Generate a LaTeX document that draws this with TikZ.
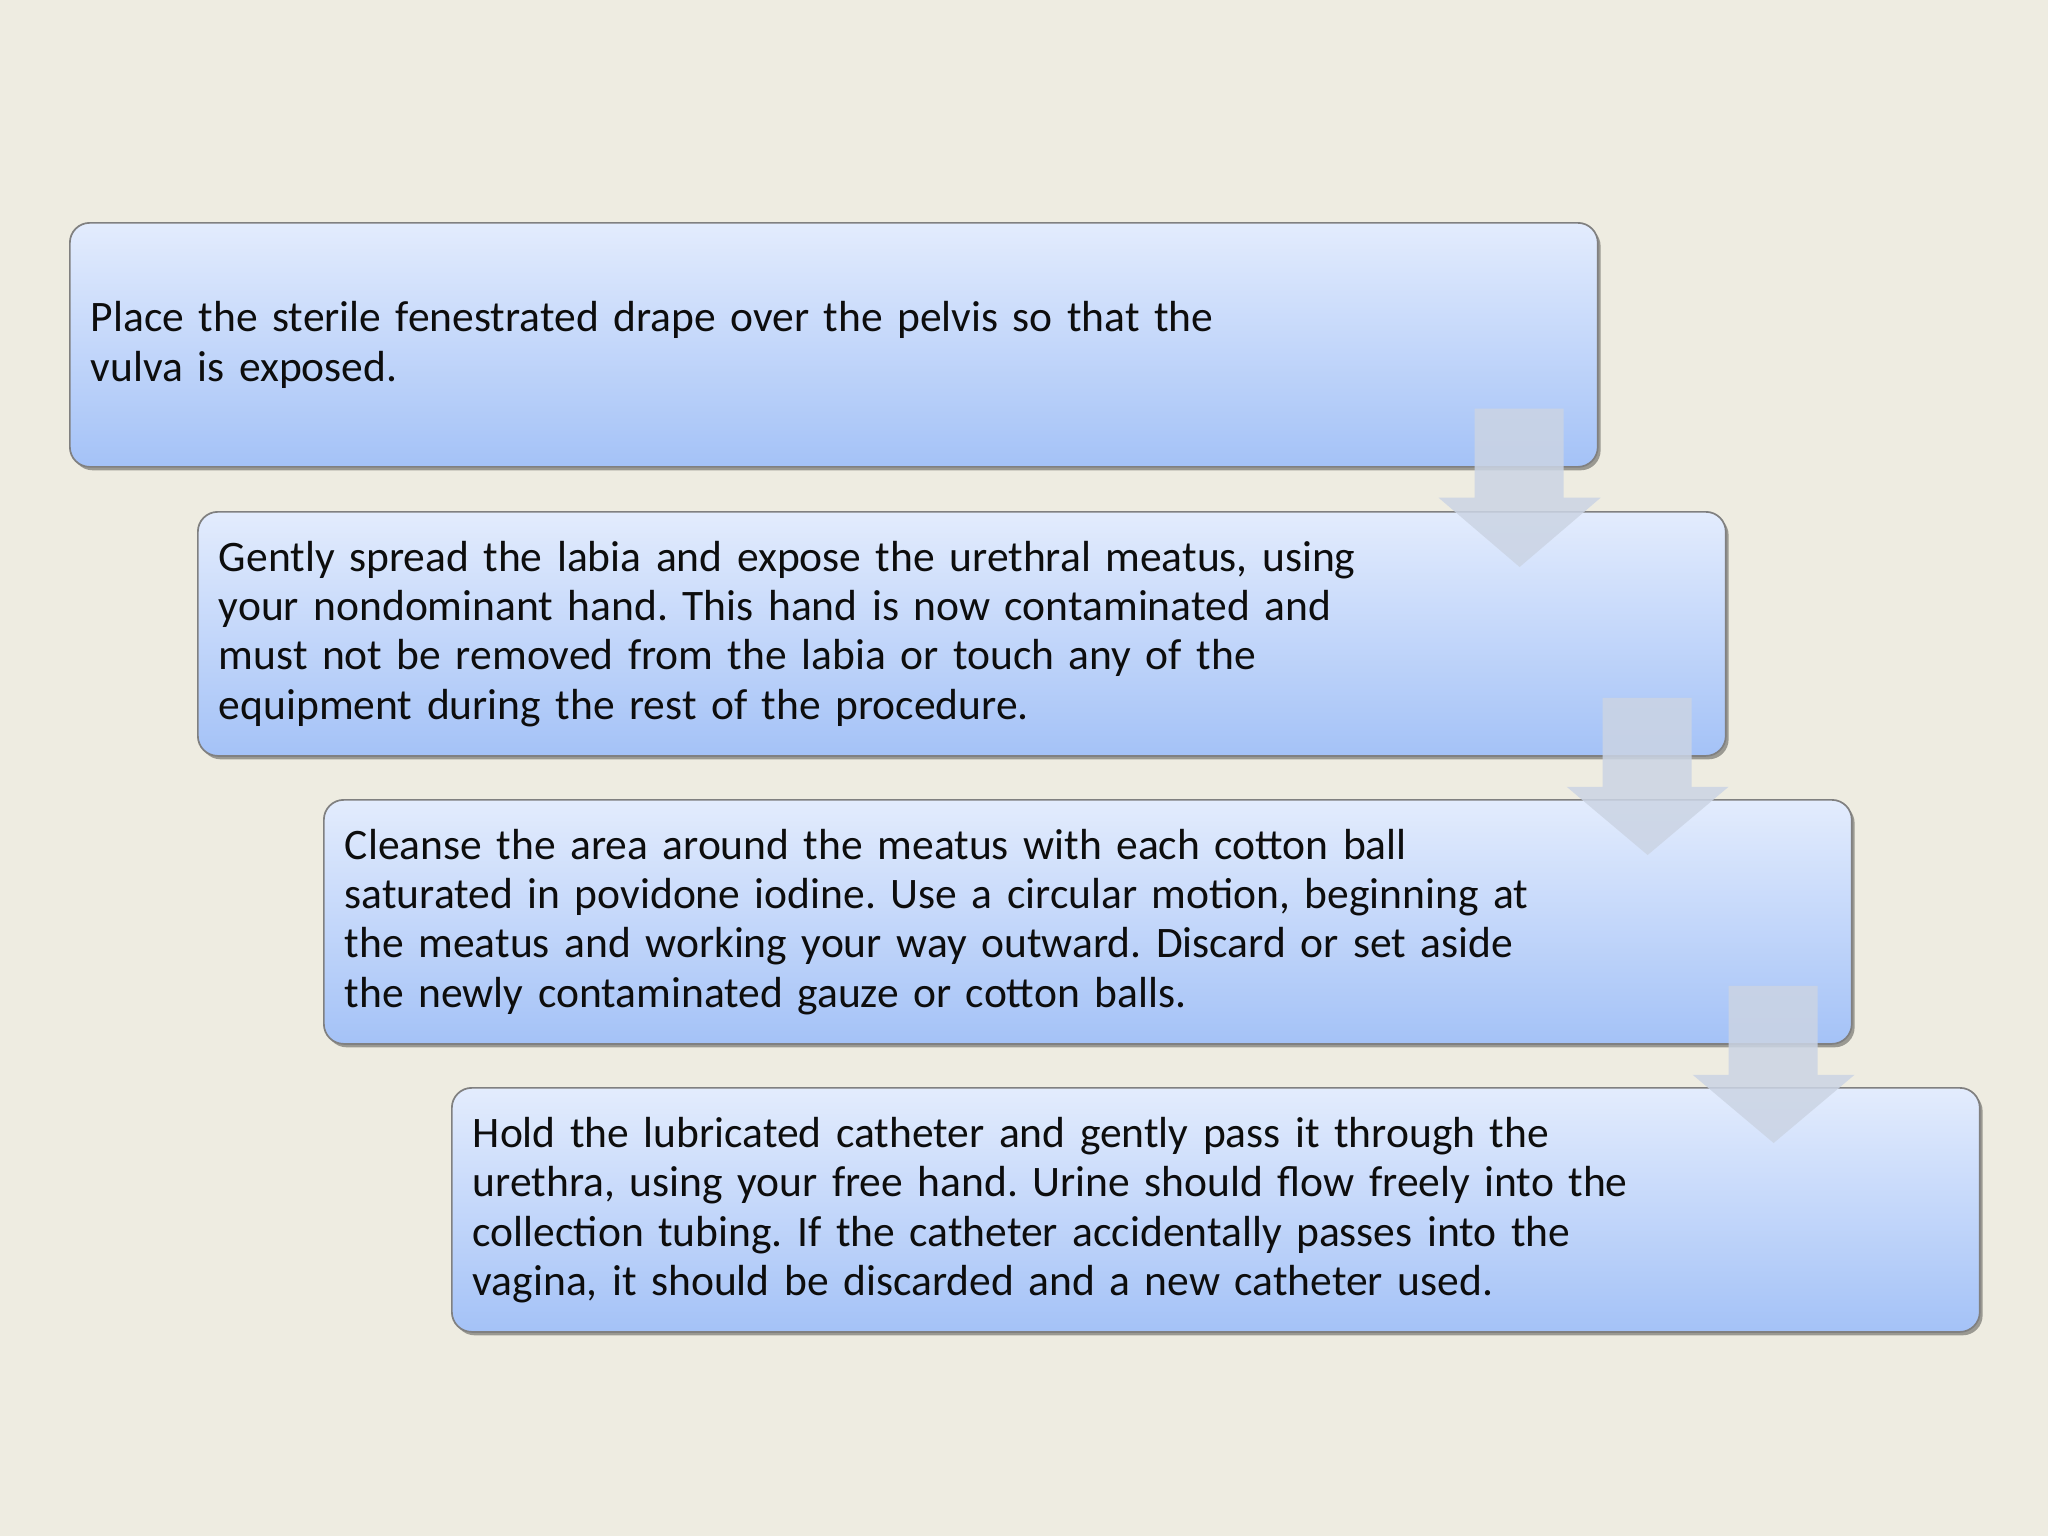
\documentclass[tikz,border=0pt]{standalone}
\usepackage{fontspec}
\setmainfont{Carlito}
\frenchspacing
\usetikzlibrary{shadows,calc}

\definecolor{slidebg}{HTML}{EEECE1}
\definecolor{boxtop}{HTML}{E3ECFD}
\definecolor{boxmid}{HTML}{C9DBFA}
\definecolor{boxbot}{HTML}{A4C2F7}
\definecolor{arrowgray}{HTML}{CBD4E4}

\tikzset{
  stepbox/.style={rectangle, rounded corners=7pt, draw=black!50, line width=0.6pt,
    top color=boxtop, middle color=boxmid, bottom color=boxbot,
    minimum width=537.2pt, minimum height=85.8pt, text width=522.4pt,
    inner xsep=7.4pt, align=left, anchor=north west, text=black!95,
    font=\fontsize{15.3}{17.4}\selectfont,
    drop shadow={shadow xshift=1pt, shadow yshift=-1.2pt, opacity=0.35, fill=black}},
  flowarrow/.style={fill=arrowgray, fill opacity=0.85}
}

\begin{document}
\begin{tikzpicture}[x=0.3516pt, y=-0.3516pt]
  % slide background
  \fill[slidebg] (0,0) rectangle (2048,1536);
  \useasboundingbox (0,0) rectangle (2048,1536);

  % the four steps
  \node[stepbox] (step1) at (69,222) {Place the sterile fenestrated drape over the pelvis so that the\\
    vulva is exposed.};
  \node[stepbox] (step2) at (197,511) {Gently spread the labia and expose the urethral meatus, using\\
    your nondominant hand. This hand is now contaminated and\\
    must not be removed from the labia or touch any of the\\
    equipment during the rest of the procedure.};
  \node[stepbox] (step3) at (323,799) {Cleanse the area around the meatus with each cotton ball\\
    saturated in povidone iodine. Use a circular motion, beginning at\\
    the meatus and working your way outward. Discard or set aside\\
    the newly contaminated gauze or cotton balls.};
  \node[stepbox] (step4) at (451,1087) {Hold the lubricated catheter and gently pass it through the\\
    urethra, using your free hand. Urine should flow freely into the\\
    collection tubing. If the catheter accidentally passes into the\\
    vagina, it should be discarded and a new catheter used.};

  % block arrows between the steps
  \foreach \a/\b in {step1/step2, step2/step3, step3/step4}{
    \coordinate (tip) at ($(\a.south east)+(-79,0)$);
    \fill[flowarrow] ($(\a.south east)+(-124,-59)$) -- ($(\a.south east)+(-35,-59)$)
      -- ($(\a.south east)+(-35,30)$) -- ($(\a.south east)+(2,30)$)
      -- (tip |- {$(\b.north)+(0,56)$})
      -- ($(\a.south east)+(-160,30)$) -- ($(\a.south east)+(-124,30)$) -- cycle;
  }
\end{tikzpicture}
\end{document}
